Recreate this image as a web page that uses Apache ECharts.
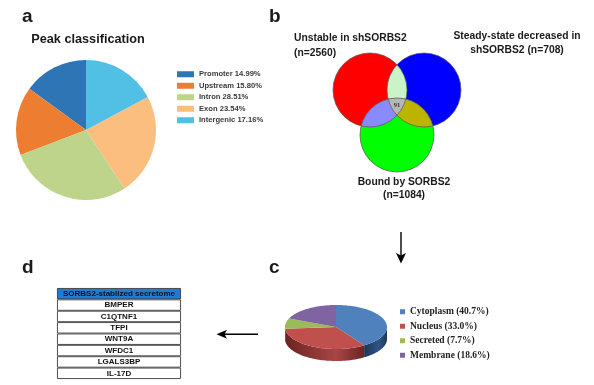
<!DOCTYPE html>
<html><head><meta charset="utf-8">
<script src="https://cdn.jsdelivr.net/npm/echarts@6/dist/echarts.min.js"></script>
<style>html,body{margin:0;padding:0;background:#fff}#c{width:594px;height:385px}</style>
</head><body><div id="c"></div>
<script>
// ---- data ----
const peakNames = ['Promoter', 'Upstream', 'Intron', 'Exon', 'Intergenic'];
const peakValues = [14.99, 15.80, 28.51, 23.54, 17.16];
const peakColors = ['#2e75b6', '#ed7d31', '#bdd48a', '#fbbe7e', '#52bfe5'];

const vennSetLabels = ['Unstable in shSORBS2', 'Steady-state decreased in\nshSORBS2', 'Bound by SORBS2'];
const vennSetCounts = [2560, 708, 1084];
const vennTripleCount = 91;

const locNames = ['Cytoplasm', 'Nucleus', 'Secreted', 'Membrane'];
const locValues = [40.7, 33.0, 7.7, 18.6];
const locColors = ['#4f81bd', '#c0504d', '#9bbb59', '#8064a2'];
const locSideColors = [['#1d365a', '#2f5584'], ['#6a2321', '#a84644'], ['#5f7a30', '#7f9c48'], ['#4f3b6b', '#65508a']];

const tableHeader = 'SORBS2-stablized secretome';
const secretomeGenes = ['BMPER', 'C1QTNF1', 'TFPI', 'WNT9A', 'WFDC1', 'LGALS3BP', 'IL-17D'];

// ---- helpers ----
function circlePoly(cx, cy, r, n) {
  const p = [];
  for (let k = 0; k < n; k++) { const t = 2 * Math.PI * k / n; p.push([cx + r * Math.cos(t), cy + r * Math.sin(t)]); }
  return p;
}
function cross(a, b, p) { return (b[0] - a[0]) * (p[1] - a[1]) - (b[1] - a[1]) * (p[0] - a[0]); }
function inter(p, q, a, b) {
  const A1 = q[1] - p[1], B1 = p[0] - q[0], C1 = A1 * p[0] + B1 * p[1];
  const A2 = b[1] - a[1], B2 = a[0] - b[0], C2 = A2 * a[0] + B2 * a[1];
  const d = A1 * B2 - A2 * B1;
  return [(B2 * C1 - B1 * C2) / d, (A1 * C2 - A2 * C1) / d];
}
function clip(subject, clipPoly) {
  let out = subject;
  for (let i = 0; i < clipPoly.length; i++) {
    const a = clipPoly[i], b = clipPoly[(i + 1) % clipPoly.length];
    const inp = out; out = [];
    if (!inp.length) break;
    for (let j = 0; j < inp.length; j++) {
      const cur = inp[j], prev = inp[(j - 1 + inp.length) % inp.length];
      const ci = cross(a, b, cur) >= 0, pi = cross(a, b, prev) >= 0;
      if (ci) { if (!pi) out.push(inter(prev, cur, a, b)); out.push(cur); }
      else if (pi) out.push(inter(prev, cur, a, b));
    }
  }
  return out;
}

// Venn layout (pixel layout parameters)
const VR = 37;
const vennCenters = [[370, 90], [424, 90], [397, 135]];
const vennFill = ['#ff0000', '#0000ff', '#00ff00'];
const pairFill = { '01': '#c8f4c8', '02': '#8a8aff', '12': '#bdb400' };

function renderVenn(params, api) {
  const polys = vennCenters.map(c => circlePoly(c[0], c[1], VR, 180));
  const ch = [];
  vennCenters.forEach((c, i) => ch.push({ type: 'circle', shape: { cx: c[0], cy: c[1], r: VR }, style: { fill: vennFill[i] } }));
  [[0, 1], [0, 2], [1, 2]].forEach(pr => {
    ch.push({ type: 'polygon', shape: { points: clip(polys[pr[0]], polys[pr[1]]) }, style: { fill: pairFill['' + pr[0] + pr[1]] } });
  });
  const tri = clip(clip(polys[0], polys[1]), polys[2]);
  ch.push({ type: 'polygon', shape: { points: tri }, style: { fill: '#b6b6b6' } });
  vennCenters.forEach(c => ch.push({ type: 'circle', shape: { cx: c[0], cy: c[1], r: VR }, style: { fill: 'none', stroke: '#555', lineWidth: 0.7 } }));
  const gx = (vennCenters[0][0] + vennCenters[1][0] + vennCenters[2][0]) / 3;
  const gy = (vennCenters[0][1] + vennCenters[1][1] + vennCenters[2][1]) / 3;
  ch.push({ type: 'text', x: gx, y: gy, style: { text: String(api.value(0)), font: 'bold 6.5px "Liberation Serif"', fill: '#333', align: 'center', verticalAlign: 'middle' } });
  return { type: 'group', children: ch };
}

// 3D pie layout parameters
const P3 = { cx: 336, cy: 327, rx: 51, ry: 22, depth: 12 };
function arcPts(a0, a1, dy) {
  const n = Math.max(2, Math.ceil((a1 - a0) / (Math.PI / 90)));
  const pts = [];
  for (let k = 0; k <= n; k++) {
    const t = a0 + (a1 - a0) * k / n;
    pts.push([P3.cx + P3.rx * Math.sin(t), P3.cy - P3.ry * Math.cos(t) + dy]);
  }
  return pts;
}
function render3D(params, api) {
  const v = api.value(0), i = api.value(1);
  const total = locValues.reduce((s, x) => s + x, 0);
  let before = 0; for (let k = 0; k < i; k++) before += locValues[k];
  const a0 = before / total * 2 * Math.PI, a1 = (before + v) / total * 2 * Math.PI;
  const ch = [];
  const s0 = Math.max(a0, Math.PI / 2), s1 = Math.min(a1, 3 * Math.PI / 2);
  if (s1 > s0) {
    const top = arcPts(s0, s1, 0), bot = arcPts(s0, s1, P3.depth).reverse();
    ch.push({ type: 'polygon', z2: 1, shape: { points: top.concat(bot) },
      style: { fill: new echarts.graphic.LinearGradient(1, 0, 0, 0, [{ offset: 0, color: locSideColors[i][0] }, { offset: 0.35, color: locSideColors[i][1] }, { offset: 1, color: locSideColors[i][0] }]) } });
  }
  ch.push({ type: 'polygon', z2: 10, shape: { points: [[P3.cx, P3.cy]].concat(arcPts(a0, a1, 0)) }, style: { fill: locColors[i] } });
  return { type: 'group', children: ch };
}

const txt = (t, x, y, font, align, extra) => Object.assign({ type: 'text', x: x, y: y, silent: true,
  style: { text: t, font: font, fill: '#1a1a1a', align: align || 'left', verticalAlign: 'middle' } }, extra || {});
const LBL = 'bold 10.3px "Liberation Sans"';

const chart = echarts.init(document.getElementById('c'), null, { renderer: 'canvas' });
chart.setOption({
  animation: false,
  backgroundColor: '#fff',
  legend: [
    { data: peakNames, orient: 'vertical', left: 172, top: 63.5, itemWidth: 17, itemHeight: 6, itemGap: 0, icon: 'rect',
      selectedMode: false,
      formatter: n => n + ' ' + peakValues[peakNames.indexOf(n)].toFixed(2) + '%',
      textStyle: { fontSize: 7.6, fontWeight: 'bold', color: '#3a3a3a', fontFamily: 'Liberation Sans', lineHeight: 11.5 } },
    { data: locNames, orient: 'vertical', left: 395, top: 299.5, itemWidth: 5, itemHeight: 5, itemGap: 0, icon: 'rect',
      selectedMode: false,
      formatter: n => n + ' (' + locValues[locNames.indexOf(n)].toFixed(1) + '%)',
      textStyle: { fontSize: 9.5, fontWeight: 'bold', color: '#222', fontFamily: 'Liberation Serif', lineHeight: 14.5 } }
  ],
  grid: [{ left: 57, top: 288, width: 124, height: 91, containLabel: false }],
  xAxis: [{ type: 'value', min: 0, max: 1, show: false, gridIndex: 0 }],
  yAxis: [{ type: 'category', inverse: true, data: [tableHeader].concat(secretomeGenes), show: false, gridIndex: 0 }],
  series: [
    { type: 'pie', name: 'Peak classification', center: [86, 130], radius: 70, clockwise: false, startAngle: 90,
      label: { show: false }, labelLine: { show: false }, silent: true, emphasis: { disabled: true },
      itemStyle: { borderWidth: 0 },
      data: peakNames.map((n, i) => ({ name: n, value: peakValues[i], itemStyle: { color: peakColors[i] } })) },
    { type: 'custom', name: 'venn', coordinateSystem: 'none', silent: true, renderItem: renderVenn, data: [[vennTripleCount]] }
  ].concat(locNames.map((n, i) => ({
    type: 'custom', name: n, coordinateSystem: 'none', silent: true, renderItem: render3D,
    itemStyle: { color: locColors[i] }, data: [[locValues[i], i]]
  }))).concat([
    { type: 'bar', xAxisIndex: 0, yAxisIndex: 0, barWidth: '100%', silent: true,
      data: [tableHeader].concat(secretomeGenes).map((g, i) => ({ value: 1,
        itemStyle: { color: i === 0 ? '#1f7bd3' : '#ffffff', borderColor: '#3c3c3c', borderWidth: 0.9 } })),
      label: { show: true, position: 'inside', formatter: '{b}', color: '#111', fontWeight: 'bold',
        fontFamily: 'Liberation Sans', fontSize: 8 } }
  ]),
  graphic: [
    txt('a', 22, 17, 'bold 19px "Liberation Sans"'),
    txt('b', 269, 17, 'bold 19px "Liberation Sans"'),
    txt('c', 269, 268, 'bold 19px "Liberation Sans"'),
    txt('d', 22, 268, 'bold 19px "Liberation Sans"'),
    txt('Peak classification', 88, 39.5, 'bold 12.7px "Liberation Sans"', 'center'),
    txt(vennSetLabels[0] + '\n(n=' + vennSetCounts[0] + ')', 294, 45.5, LBL, 'left', { style: { text: vennSetLabels[0] + '\n(n=' + vennSetCounts[0] + ')', font: LBL, fill: '#1a1a1a', align: 'left', verticalAlign: 'middle', lineHeight: 14.4 } }),
    txt('', 517, 43, LBL, 'center', { style: { text: vennSetLabels[1] + ' (n=' + vennSetCounts[1] + ')', font: LBL, fill: '#1a1a1a', align: 'center', verticalAlign: 'middle', lineHeight: 14 } }),
    txt('', 404, 188.5, LBL, 'center', { style: { text: vennSetLabels[2] + '\n(n=' + vennSetCounts[2] + ')', font: LBL, fill: '#1a1a1a', align: 'center', verticalAlign: 'middle', lineHeight: 13.5 } }),
    { type: 'line', silent: true, shape: { x1: 401, y1: 232, x2: 401, y2: 256 }, style: { stroke: '#000', lineWidth: 1.4 } },
    { type: 'polygon', silent: true, shape: { points: [[396, 253], [401, 255.5], [406, 253], [401, 263.5]] }, style: { fill: '#000' } },
    { type: 'line', silent: true, shape: { x1: 224, y1: 334.3, x2: 258, y2: 334.3 }, style: { stroke: '#000', lineWidth: 1.4 } },
    { type: 'polygon', silent: true, shape: { points: [[216.5, 334.3], [227, 329.8], [224.5, 334.3], [227, 338.8]] }, style: { fill: '#000' } }
  ]
});
</script></body></html>
